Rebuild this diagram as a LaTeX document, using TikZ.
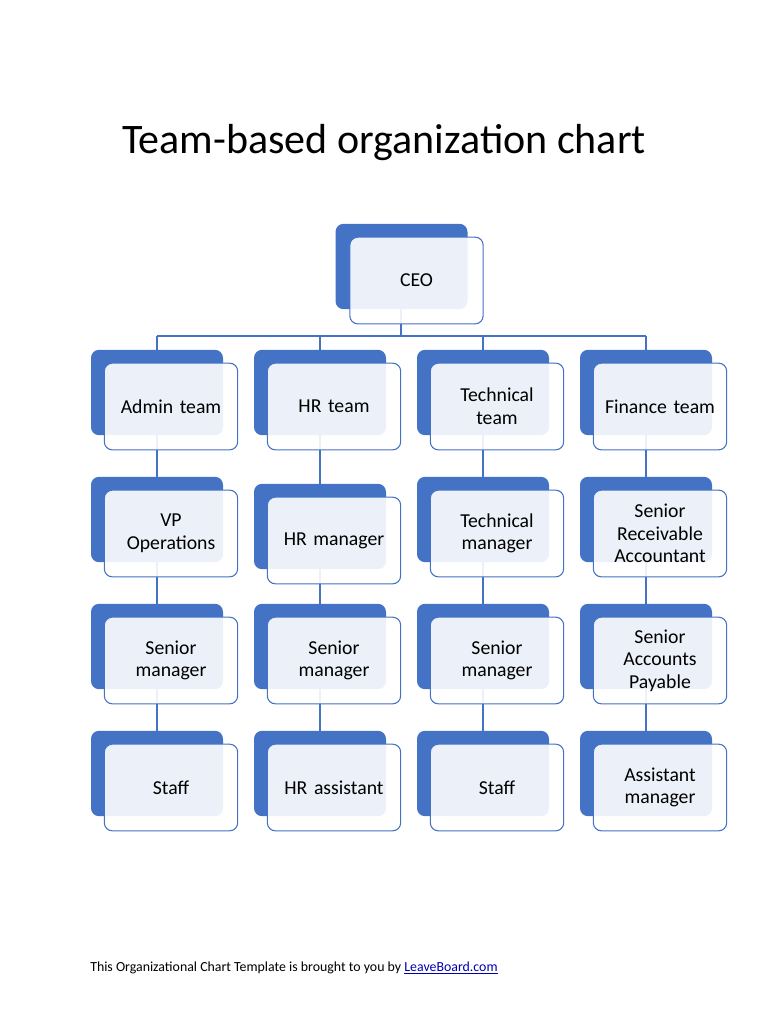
\documentclass[tikz,border=0pt]{standalone}
\usepackage{fontspec}
\setmainfont{Carlito}
\definecolor{bl}{HTML}{4472C4}
\begin{document}
\begin{tikzpicture}[x=0.75pt,y=-0.75pt,
  back/.style={fill=bl,rounded corners=6pt,minimum width=99pt,minimum height=64pt,inner sep=0pt},
  front/.style={draw=bl,line width=0.8pt,fill=white,fill opacity=0.9,text opacity=1,rounded corners=6pt,minimum width=100pt,minimum height=65pt,inner sep=0pt,align=center,font=\fontsize{14.8}{17}\selectfont,text width=97pt},
  conn/.style={draw=bl,line width=0.8pt}]
\useasboundingbox (0,0) rectangle (768,1024);
\node[font=\fontsize{31.5}{36}\selectfont] (title) at (384,143) {Team-based organization chart};
\foreach \x in {157,320,483,646}{
  \draw[conn] (\x,336) -- (\x,812);
}
\draw[conn] (157,336) -- (646,336);
\draw[conn] (401,300) -- (401,336);
\node[back] (bceo) at (401.5,266.5) {};
\node[front] (ceo) at (416.5,280.5) {CEO};
\foreach \c/\x in {1/157,2/320,3/483,4/646}{
  \foreach \r/\y in {1/392.5,2/519.5,3/646.5,4/773.5}{
    \ifnum\c\r=22\else\node[back] (b\c\r) at (\x,\y) {};\fi
  }
}
\node[back] (b22) at (320,526.5) {};
\newcommand{\fb}[2]{\node[front] (f#1) at ([xshift=10.5pt,yshift=-10.5pt]b#1) {#2};}
\fb{11}{Admin team}
\fb{12}{VP\\Operations}
\fb{13}{Senior\\manager}
\fb{14}{Staff}
\fb{21}{HR team}
\fb{22}{HR manager}
\fb{23}{Senior\\manager}
\fb{24}{HR assistant}
\fb{31}{Technical\\team}
\fb{32}{Technical\\manager}
\fb{33}{Senior\\manager}
\fb{34}{Staff}
\fb{41}{Finance team}
\fb{42}{Senior\\Receivable\\Accountant}
\fb{43}{Senior\\Accounts\\Payable}
\fb{44}{Assistant\\manager}
\node[anchor=west,font=\fontsize{10.4}{12}\selectfont,inner sep=0pt] (foot) at (90,968) {This Organizational Chart Template is brought to you by \textcolor{blue!70!black}{\underline{LeaveBoard.com}}};
\end{tikzpicture}
\end{document}
